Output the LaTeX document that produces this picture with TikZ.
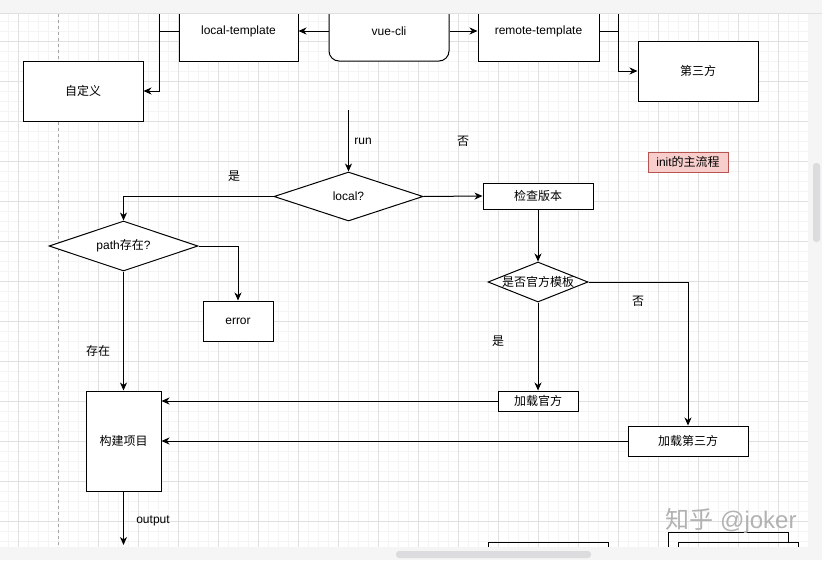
\documentclass[tikz,border=0pt]{standalone}
\usepackage{fontspec}
\setmainfont{Liberation Sans}
\newfontfamily\cjk{Noto Sans CJK SC}
\usetikzlibrary{shapes.geometric,arrows.meta}
\definecolor{gridminor}{HTML}{F4F4F4}
\definecolor{gridmajor}{HTML}{E0E0E0}
\definecolor{uibg}{HTML}{F5F5F6}
\definecolor{uithumb}{HTML}{DCDCDE}
\definecolor{pinkfill}{HTML}{F8CECC}
\definecolor{pinkdraw}{HTML}{B85450}
\tikzset{
  fs/.style={font=\fontsize{12}{14}\selectfont},
  fscjk/.style={font=\fontsize{12}{14}\selectfont\cjk},
  box/.style={draw=black, fill=white, line width=1pt, inner sep=0pt},
  dia/.style={shape=diamond, draw=black, fill=white, line width=1pt, inner sep=0pt},
  lbl/.style={inner sep=0pt},
  conn/.style={line width=1pt, -{Stealth[length=8pt,width=7pt,inset=2.5pt]}},
  plain/.style={line width=1pt},
}
\begin{document}
\begin{tikzpicture}[x=1pt,y=-1pt]
\useasboundingbox (0,0) rectangle (822,560);
\fill[white] (0,0) rectangle (822,560);
% grid
\foreach \x in {8,18,...,808} \draw[gridminor, line width=0.5pt] (\x,14) -- (\x,547);
\foreach \y in {21.5,31.5,...,541.5} \draw[gridminor, line width=0.5pt] (0,\y) -- (808,\y);
\foreach \x in {18,98,138,...,778} \draw[gridmajor, line width=0.8pt] (\x,14) -- (\x,547);
\foreach \y in {41.5,81.5,...,521.5} \draw[gridmajor, line width=0.8pt] (0,\y) -- (808,\y);
\draw[gray!70, dashed, line width=0.8pt] (58,14) -- (58,547);

% top row
\node[box, fs, minimum width=119, minimum height=60] (lt) at (238.5,31) {local-template};
\node[box, fs, rounded corners=10pt, minimum width=120, minimum height=60] (vue) at (389,31) {vue-cli};
\node[box, fs, minimum width=121, minimum height=60] (rt) at (538.5,31) {remote-template};
\node[box, fscjk, minimum width=120, minimum height=60] (sf) at (698,71) {第三方};
\node[box, fscjk, minimum width=120, minimum height=60] (zdy) at (83,91) {自定义};
\coordinate (ltup) at (159,0);
\coordinate (rtup) at (618,0);
\draw[conn] (vue.west) -- (lt.east);
\draw[conn] (vue.east) -- (rt.west);
\draw[plain] (lt.west) -- (lt.west -| ltup);
\draw[conn] (ltup) |- (zdy.east);
\draw[plain] (rt.east) -- (rt.east -| rtup);
\draw[conn] (rtup) |- (sf.west);

% main flow
\node[box, fs, fill=pinkfill, draw=pinkdraw, line width=0.8pt, minimum width=80, minimum height=20] (init) at (688,162) {init{\cjk 的主流程}};
\node[dia, minimum width=149, minimum height=49, label={[fs]center:local?}] (local) at (348.5,196.5) {};
\node[box, fscjk, minimum width=110, minimum height=26] (jc) at (538,196) {检查版本};
\node[dia, minimum width=149, minimum height=50, label={[fs]center:path{\cjk 存在}?}] (path) at (123.5,246) {};
\node[box, fs, minimum width=70, minimum height=40] (err) at (238,321) {error};
\node[box, fscjk, minimum width=75, minimum height=100] (build) at (123.5,441) {构建项目};
\node[dia, minimum width=100, minimum height=40, label={[fscjk]center:是否官方模板}] (gf) at (538,282) {};
\node[box, fscjk, minimum width=80, minimum height=20] (jzgf) at (538,401) {加载官方};
\node[box, fscjk, minimum width=120, minimum height=30] (jzsf) at (688,441) {加载第三方};

\coordinate (runstart) at (348.5,110);
\coordinate (outend) at (123.5,545);
\draw[conn] (runstart) -- (local.north);
\draw[conn] (local.east) -- (jc.west);
\draw[conn] (local.west) -| (path.north);
\draw[conn] (path.east) -| (err.north);
\draw[conn] (path.south) -- (build.north);
\draw[conn] (build.south) -- (outend);
\draw[conn] (jc.south) -- (gf.north);
\draw[conn] (gf.south) -- (jzgf.north);
\draw[conn] (gf.east) -| (jzsf.north);
\draw[conn] (jzgf.west) -- (jzgf.west -| build.east);
\draw[conn] (jzsf.west) -- (jzsf.west -| build.east);

% edge labels
\node[lbl, fs] (lrun) at (363,141) {run};
\node[lbl, fscjk] (lno1) at (463,141) {否};
\node[lbl, fscjk] (lyes1) at (234,176) {是};
\node[lbl, fscjk] (lexist) at (98,351) {存在};
\node[lbl, fscjk] (lyes2) at (498,341) {是};
\node[lbl, fscjk] (lno2) at (638,301) {否};
\node[lbl, fs] (lout) at (153,521) {output};

% partially visible shapes at the bottom
\draw[plain] (488,560) |- (608,542) -- (608,560);
\draw[plain] (668,560) |- (788,532) -- (788,542);
\draw[plain] (678,560) |- (798,542) -- (798,560);

% watermark
\node[lbl, text=black!30, font=\fontsize{24}{26}\selectfont] (wm) at (731,521) {{\cjk 知乎} @joker};

% UI chrome
\fill[uibg] (0,0) rectangle (822,13);
\draw[gridmajor, line width=0.8pt] (0,13.5) -- (822,13.5);
\fill[uibg] (0,547) rectangle (822,560);
\fill[uithumb, rounded corners=3pt] (396,551) rectangle (591,558);
\fill[uibg] (808,13.5) rectangle (822,547);
\fill[uithumb, rounded corners=3pt] (813,163) rectangle (820,242);
\end{tikzpicture}
\end{document}
